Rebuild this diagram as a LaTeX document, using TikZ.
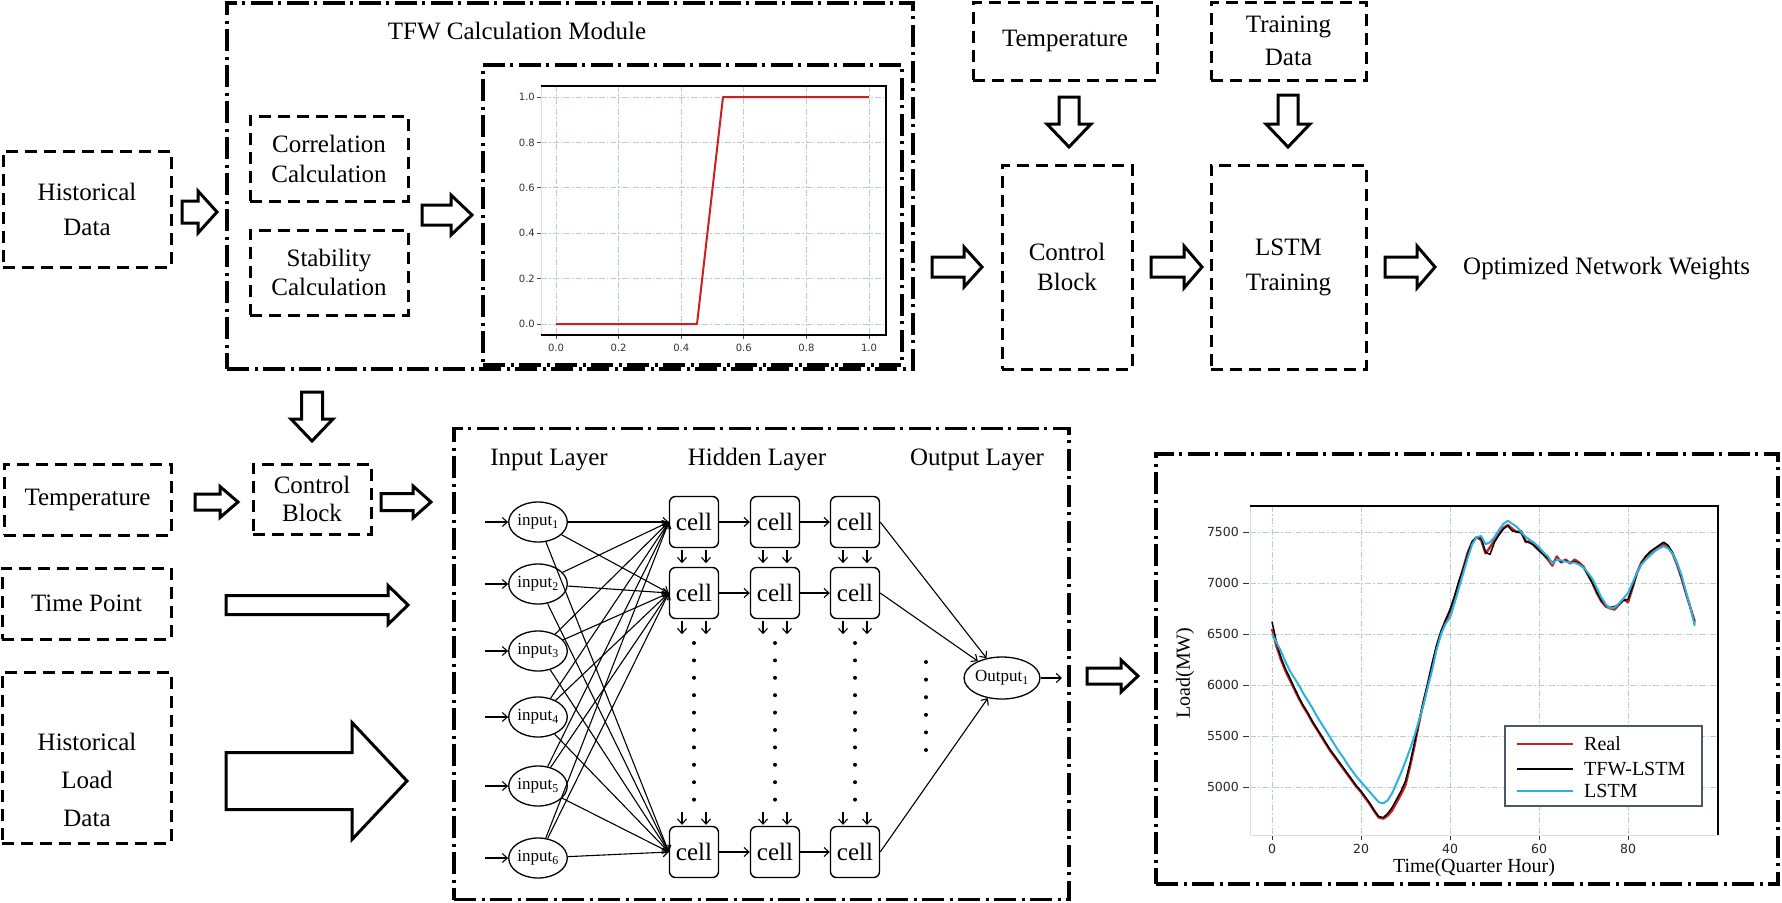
\documentclass[tikz,border=0pt]{standalone}
\usepackage{fontspec}
\setmainfont{Liberation Serif}
\newfontfamily\tickfont{DejaVu Sans}
\usetikzlibrary{shapes.geometric,arrows.meta,calc}
\definecolor{gridc}{HTML}{B4CDD6}
\definecolor{realc}{HTML}{CC1F1F}
\definecolor{lstmc}{HTML}{2AB3E0}
\definecolor{legc}{HTML}{4A5868}
\definecolor{spinec}{HTML}{DDDDDD}
\newcommand{\mainfs}{\fontsize{25}{31}\selectfont}
\newcommand{\RArr}[6]{\draw[barrow] (#1,#3-#4) -- (#2-#6,#3-#4) -- (#2-#6,#3-#5) -- (#2,#3) -- (#2-#6,#3+#5) -- (#2-#6,#3+#4) -- (#1,#3+#4) -- cycle;}
\newcommand{\DArr}[6]{\draw[barrow] (#3-#4,#1) -- (#3-#4,#2-#6) -- (#3-#5,#2-#6) -- (#3,#2) -- (#3+#5,#2-#6) -- (#3+#4,#2-#6) -- (#3+#4,#1) -- cycle;}
\begin{document}
\begin{tikzpicture}[x=1pt,y=-1pt,
  dbox/.style={draw, line width=3pt, dash pattern=on 12pt off 7pt, align=center, inner sep=0pt, font=\mainfs},
  ddot/.style={draw, line width=3.5pt, dash pattern=on 22pt off 6pt on 3pt off 5pt, inner sep=0pt},
  barrow/.style={draw, line width=3pt, fill=white, line join=miter},
  txt/.style={align=center, inner sep=0pt, font=\mainfs},
  gridl/.style={draw=gridc, line width=0.9pt, dash pattern=on 6pt off 2pt on 1.5pt off 2pt},
  tickl/.style={font=\tickfont\fontsize{12.5}{14}\selectfont, inner sep=0pt, text=black!85},
  tickt/.style={font=\tickfont\fontsize{10}{12}\selectfont, inner sep=0pt, text=black!80},
  nnarr/.style={line width=1.1pt, -{Straight Barb[length=5pt,width=9pt]}},
  cellbox/.style={draw, line width=1.4pt, rounded corners=6pt, minimum width=49pt, minimum height=51pt, inner sep=0pt, font=\fontsize{25}{28}\selectfont},
  inell/.style={draw, ellipse, line width=1.3pt, minimum width=48pt, minimum height=40pt, inner sep=0pt, font=\fontsize{17}{19}\selectfont},
  outell/.style={draw, ellipse, line width=1.3pt, minimum width=62pt, minimum height=42pt, inner sep=0pt, font=\fontsize{17}{19}\selectfont}
]
\useasboundingbox (0,0) rectangle (1782,902);
\fill[white] (0,0) rectangle (1782,902);

% ---------------- top row ----------------
\node[dbox, minimum width=168pt, minimum height=116pt, font=\fontsize{25}{35}\selectfont] (hist) at (87,209) {Historical\\Data};
\node[ddot, minimum width=686pt, minimum height=366pt] (tfw) at (570,186) {};
\node[txt] (tfwtitle) at (517,31) {TFW Calculation Module};
\node[dbox, minimum width=158pt, minimum height=85pt, font=\fontsize{25}{30}\selectfont] (corr) at (329,158.5) {Correlation\\Calculation};
\node[dbox, minimum width=158pt, minimum height=85pt, font=\fontsize{25}{29}\selectfont] (stab) at (329,272.5) {Stability\\Calculation};
\node[ddot, minimum width=419pt, minimum height=300pt] (pbox) at (692.5,215) {};

% TFW curve plot
\foreach \k/\lab in {0/0.0,1/0.2,2/0.4,3/0.6,4/0.8,5/1.0}{
  \draw[gridl] ({556+62.6*\k},86) -- ({556+62.6*\k},335);
  \draw[gridl] (541,{324-45.4*\k}) -- (886,{324-45.4*\k});
  \draw[black!70, line width=0.8pt] (537,{324-45.4*\k}) -- (541,{324-45.4*\k});
  \draw[black!70, line width=0.8pt] ({556+62.6*\k},335) -- ({556+62.6*\k},339);
  \node[tickt, anchor=east] (ty\k) at (535,{324-45.4*\k}) {\lab};
  \node[tickt] (tx\k) at ({556+62.6*\k},348) {\lab};
}
\draw[spinec, line width=1pt] (541,86) -- (541,335);
\draw[black, line width=1.3pt] (541,86) -- (886,86) -- (886,335) -- (541,335);
\draw[realc, line width=2pt, line join=round] (556,324) -- (697,324) -- (723,97) -- (869,97);

\node[dbox, minimum width=184pt, minimum height=78pt] (temptop) at (1065,41) {Temperature};
\node[dbox, minimum width=155pt, minimum height=78pt, font=\fontsize{25}{33}\selectfont] (train) at (1288.5,41) {Training\\Data};
\node[dbox, minimum width=130pt, minimum height=204pt, font=\fontsize{25}{30}\selectfont] (ctrl) at (1067,267) {Control\\Block};
\node[dbox, minimum width=155pt, minimum height=204pt, font=\fontsize{25}{35}\selectfont] (lstm) at (1288.5,267) {LSTM\\Training};
\node[txt, anchor=west] (opt) at (1463,269) {Optimized Network Weights};

\RArr{182}{217}{212}{11}{21}{19}
\RArr{422}{472}{215}{10}{20}{21}
\RArr{932}{982}{267}{10}{20}{18}
\RArr{1151}{1202}{267}{10}{21}{18}
\RArr{1385}{1435}{267}{10}{21}{18}
\DArr{97}{147}{1069}{10}{22}{23}
\DArr{95}{147}{1288}{10}{22}{23}

% ---------------- bottom left ----------------
\DArr{392}{441}{312}{10.5}{21}{22}
\node[dbox, minimum width=167pt, minimum height=71pt] (templow) at (87.5,499.5) {Temperature};
\node[dbox, minimum width=118pt, minimum height=70pt, font=\fontsize{25}{28}\selectfont] (ctrlsm) at (312,499) {Control\\Block};
\node[dbox, minimum width=169pt, minimum height=71pt] (timep) at (86.5,603.5) {Time Point};
\node[dbox, minimum width=169pt, minimum height=171pt] (hload) at (86.5,757.5) {};
\node[txt, font=\fontsize{25}{38}\selectfont] (hloadtxt) at (87,780) {Historical\\Load\\Data};

\RArr{195}{238}{502}{8}{15.5}{18}
\RArr{381}{431}{502}{8.5}{16}{18}
\RArr{226}{408}{605}{9.5}{19.5}{20}
\RArr{226}{407}{781}{28.5}{58.5}{55}
\RArr{1087}{1138}{676}{8}{16}{17}

% ---------------- network ----------------
\node[ddot, minimum width=615pt, minimum height=471pt] (nn) at (761.5,664) {};
\node[txt] (lin) at (549,460) {Input Layer};
\node[txt] (lhid) at (757,460) {Hidden Layer};
\node[txt] (lout) at (977,460) {Output Layer};

\foreach \c/\xx in {1/694,2/775,3/855}{
  \foreach \r/\yy in {1/522,2/593,3/852}{
    \node[cellbox] (c\c\r) at (\xx,\yy) {cell};
  }
}
\foreach \i/\yy in {1/522,2/584,3/651,4/717,5/786,6/858}{
  \node[inell] (in\i) at (538,\yy) {input\textsubscript{\i}};
  \coordinate (ia\i) at (485,\yy);
  \draw[nnarr] (ia\i) -- (in\i);
}
\foreach \i in {1,...,6}{
  \foreach \r in {1,2,3}{
    \draw[nnarr] (in\i) -- (c1\r.west);
  }
}
\foreach \r in {1,2,3}{
  \draw[nnarr] (c1\r) -- (c2\r);
  \draw[nnarr] (c2\r) -- (c3\r);
}
\foreach \c in {1,2,3}{
  \foreach \r in {1,2}{
    \draw[nnarr] ($(c\c\r.south)+(-12,2)$) -- ($(c\c\r.south)+(-12,15)$);
    \draw[nnarr] ($(c\c\r.south)+(12,2)$) -- ($(c\c\r.south)+(12,15)$);
  }
  \draw[nnarr] ($(c\c3.north)+(-12,-14)$) -- ($(c\c3.north)+(-12,-1)$);
  \draw[nnarr] ($(c\c3.north)+(12,-14)$) -- ($(c\c3.north)+(12,-1)$);
}
\foreach \xx in {694,775,855}{
  \foreach \k in {0,...,9}{
    \fill ({\xx},{643+17.4*\k}) circle[radius=2pt];
  }
}
\foreach \k in {0,...,5}{
  \fill (926,{662+17.6*\k}) circle[radius=2pt];
}
\node[outell] (out) at (1002,678) {Output\textsubscript{1}};
\foreach \r in {1,2,3}{
  \draw[nnarr] (c3\r.east) -- (out);
}
\coordinate (oe) at (1062,678);
\draw[nnarr] (out) -- (oe);

% ---------------- load plot ----------------
\node[ddot, minimum width=622pt, minimum height=430pt] (p2box) at (1467,669) {};
\foreach \k/\v in {0/5000,1/5500,2/6000,3/6500,4/7000,5/7500}{
  \draw[gridl] (1250,{787-51*\k}) -- (1718,{787-51*\k});
  \draw[black!80, line width=0.9pt] (1243,{787-51*\k}) -- (1249,{787-51*\k});
  \node[tickl, anchor=east] (ly\k) at (1239,{787-51*\k}) {\v};
}
\foreach \k/\t in {0/0,1/20,2/40,3/60,4/80}{
  \draw[gridl] ({1272+89*\k},506) -- ({1272+89*\k},835);
  \draw[black!80, line width=0.9pt] ({1272+89*\k},835) -- ({1272+89*\k},840);
  \node[tickl] (lx\k) at ({1272+89*\k},849) {\t};
}
\draw[spinec, line width=1pt] (1250,506) -- (1250,835) -- (1718,835);
\draw[black, line width=1.3pt] (1250,506) -- (1718,506) -- (1718,835);

\begin{scope}[shift={(1272,1297)}, x=4.45pt, y=0.102pt]
\draw[realc, line width=2.4pt, line join=round] plot coordinates {(0,6550) (1,6380) (2,6250) (3,6140) (4,6050) (5,5960) (6,5870) (7,5790) (8,5720) (9,5640) (10,5570) (11,5500) (12,5430) (13,5360) (14,5300) (15,5240) (16,5180) (17,5120) (18,5060) (19,5000) (20,4950) (21,4890) (22,4830) (23,4760) (24,4700) (25,4690) (26,4720) (27,4770) (28,4850) (29,4930) (30,5020) (31,5200) (32,5400) (33,5620) (34,5820) (35,6000) (36,6200) (37,6380) (38,6520) (39,6620) (40,6720) (41,6850) (42,7000) (43,7150) (44,7300) (45,7400) (46,7450) (47,7420) (48,7290) (49,7350) (50,7420) (51,7480) (52,7540) (53,7570) (54,7530) (55,7500) (56,7510) (57,7400) (58,7410) (59,7360) (60,7320) (61,7280) (62,7230) (63,7170) (64,7260) (65,7200) (66,7230) (67,7190) (68,7230) (69,7200) (70,7160) (71,7080) (72,7000) (73,6900) (74,6820) (75,6770) (76,6750) (77,6740) (78,6790) (79,6840) (80,6810) (81,6950) (82,7100) (83,7200) (84,7260) (85,7300) (86,7330) (87,7360) (88,7380) (89,7350) (90,7290) (91,7180) (92,7050) (93,6900) (94,6760) (95,6620)};
\draw[black, line width=1.5pt, line join=round] plot coordinates {(0,6620) (1,6420) (2,6270) (3,6160) (4,6070) (5,5975) (6,5885) (7,5800) (8,5730) (9,5650) (10,5580) (11,5510) (12,5440) (13,5370) (14,5310) (15,5250) (16,5190) (17,5130) (18,5070) (19,5010) (20,4960) (21,4900) (22,4840) (23,4770) (24,4710) (25,4700) (26,4740) (27,4800) (28,4880) (29,4960) (30,5060) (31,5230) (32,5430) (33,5640) (34,5840) (35,6020) (36,6210) (37,6390) (38,6530) (39,6640) (40,6740) (41,6870) (42,7020) (43,7140) (44,7290) (45,7410) (46,7450) (47,7440) (48,7300) (49,7280) (50,7400) (51,7470) (52,7530) (53,7560) (54,7510) (55,7500) (56,7490) (57,7410) (58,7390) (59,7370) (60,7320) (61,7280) (62,7240) (63,7200) (64,7230) (65,7210) (66,7220) (67,7200) (68,7210) (69,7190) (70,7150) (71,7080) (72,7000) (73,6910) (74,6830) (75,6780) (76,6760) (77,6770) (78,6790) (79,6830) (80,6840) (81,6960) (82,7090) (83,7190) (84,7260) (85,7310) (86,7340) (87,7370) (88,7400) (89,7370) (90,7300) (91,7200) (92,7060) (93,6910) (94,6760) (95,6600)};
\draw[lstmc, line width=2pt, line join=round] plot coordinates {(0,6500) (1,6420) (2,6330) (3,6230) (4,6140) (5,6070) (6,6000) (7,5920) (8,5850) (9,5780) (10,5700) (11,5630) (12,5560) (13,5490) (14,5420) (15,5350) (16,5290) (17,5220) (18,5160) (19,5100) (20,5050) (21,5000) (22,4950) (23,4900) (24,4850) (25,4840) (26,4870) (27,4940) (28,5040) (29,5140) (30,5250) (31,5370) (32,5500) (33,5650) (34,5800) (35,5980) (36,6150) (37,6350) (38,6500) (39,6600) (40,6660) (41,6800) (42,6950) (43,7100) (44,7250) (45,7380) (46,7450) (47,7460) (48,7380) (49,7400) (50,7450) (51,7520) (52,7580) (53,7610) (54,7580) (55,7550) (56,7500) (57,7450) (58,7420) (59,7390) (60,7350) (61,7300) (62,7260) (63,7190) (64,7230) (65,7220) (66,7210) (67,7200) (68,7200) (69,7180) (70,7150) (71,7100) (72,7040) (73,6950) (74,6860) (75,6790) (76,6750) (77,6760) (78,6800) (79,6850) (80,6900) (81,7000) (82,7100) (83,7180) (84,7230) (85,7270) (86,7310) (87,7340) (88,7360) (89,7340) (90,7290) (91,7200) (92,7080) (93,6920) (94,6760) (95,6580)};
\end{scope}

\node[draw=legc, fill=white, line width=1.2pt, minimum width=197pt, minimum height=80pt, inner sep=0pt] (leg) at (1603.5,766) {};
\draw[realc, line width=1.5pt] (1517,744) -- (1573,744);
\draw[black, line width=1.5pt] (1517,769) -- (1573,769);
\draw[lstmc, line width=1.5pt] (1517,791) -- (1573,791);
\node[anchor=west, inner sep=0pt, font=\fontsize{20}{22}\selectfont] (lg1) at (1584,744) {Real};
\node[anchor=west, inner sep=0pt, font=\fontsize{20}{22}\selectfont] (lg2) at (1584,769) {TFW-LSTM};
\node[anchor=west, inner sep=0pt, font=\fontsize{20}{22}\selectfont] (lg3) at (1584,791) {LSTM};

\node[rotate=90, inner sep=0pt, font=\fontsize{20}{22}\selectfont] (ylab) at (1185,673) {Load(MW)};
\node[inner sep=0pt, font=\fontsize{20}{22}\selectfont] (xlab) at (1474,868) {Time(Quarter Hour)};
\end{tikzpicture}
\end{document}
